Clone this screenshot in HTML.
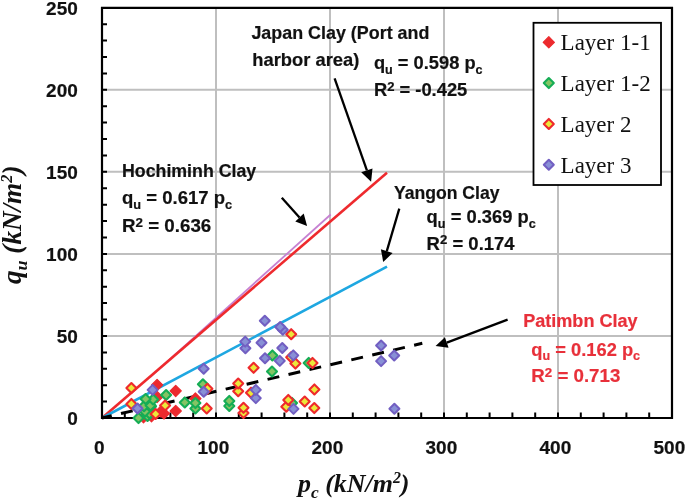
<!DOCTYPE html>
<html><head><meta charset="utf-8"><title>qu vs pc</title>
<style>
html,body{margin:0;padding:0;background:#fff;}
body{width:685px;height:498px;overflow:hidden;}
svg{display:block;filter:blur(0.35px);}
.t{font-family:"Liberation Sans",Arial,sans-serif;font-weight:bold;fill:#111;stroke:#111;stroke-width:0.2px;}
.lg{font-family:"Liberation Serif","Times New Roman",serif;fill:#111;}
.ax{font-family:"Liberation Serif","Times New Roman",serif;font-weight:bold;font-style:italic;fill:#111;}
</style></head><body>
<svg width="685" height="498" viewBox="0 0 685 498">
<defs>
<path id="mR" d="M0,-5.6 L5.6,0 L0,5.6 L-5.6,0Z" fill="#ec2a2e" stroke="#ec2a2e" stroke-width="1.2" stroke-linejoin="round"/>
<path id="mG" d="M0,-5 L5,0 L0,5 L-5,0Z" fill="#84c464" stroke="#15ad55" stroke-width="2.1" stroke-linejoin="round"/>
<path id="mY" d="M0,-5 L5,0 L0,5 L-5,0Z" fill="#ece83a" stroke="#ee2a2c" stroke-width="2.1" stroke-linejoin="round"/>
<path id="mP" d="M0,-5 L5,0 L0,5 L-5,0Z" fill="#8890d6" stroke="#725fc2" stroke-width="2" stroke-linejoin="round"/>
</defs>
<rect width="685" height="498" fill="#fff"/>

<path d="M216.0,7.8V418.0M330.0,7.8V418.0M444.0,7.8V418.0M558.0,7.8V418.0M102.0,335.9H672.0M102.0,253.9H672.0M102.0,171.8H672.0M102.0,89.8H672.0" stroke="#bfbfbf" stroke-width="2" fill="none"/>
<path d="M102.0,401.6h5M102.0,385.2h5M102.0,368.8h5M102.0,352.4h5M102.0,335.9h5M102.0,319.5h5M102.0,303.1h5M102.0,286.7h5M102.0,270.3h5M102.0,253.9h5M102.0,237.5h5M102.0,221.1h5M102.0,204.7h5M102.0,188.3h5M102.0,171.8h5M102.0,155.4h5M102.0,139.0h5M102.0,122.6h5M102.0,106.2h5M102.0,89.8h5M102.0,73.4h5M102.0,57.0h5M102.0,40.6h5M102.0,24.2h5M124.8,418.0v-5.5M147.6,418.0v-5.5M170.4,418.0v-5.5M193.2,418.0v-5.5M216.0,418.0v-5.5M238.8,418.0v-5.5M261.6,418.0v-5.5M284.4,418.0v-5.5M307.2,418.0v-5.5M330.0,418.0v-5.5M352.8,418.0v-5.5M375.6,418.0v-5.5M398.4,418.0v-5.5M421.2,418.0v-5.5M444.0,418.0v-5.5M466.8,418.0v-5.5M489.6,418.0v-5.5M512.4,418.0v-5.5M535.2,418.0v-5.5M558.0,418.0v-5.5M580.8,418.0v-5.5M603.6,418.0v-5.5M626.4,418.0v-5.5M649.2,418.0v-5.5" stroke="#000" stroke-width="2" fill="none"/>
<line x1="150" y1="377.1" x2="330.7" y2="214.5" stroke="#c682d2" stroke-width="1.8"/>
<line x1="102.0" y1="418.0" x2="387.0" y2="172.7" stroke="#ee2a2e" stroke-width="2.6"/>
<line x1="102.0" y1="418.0" x2="387.0" y2="266.6" stroke="#1ea7e1" stroke-width="2.6"/>
<line x1="102.0" y1="418.0" x2="422.3" y2="343.3" stroke="#000" stroke-width="3" stroke-dasharray="12,9.5" stroke-dashoffset="2"/>
<path d="M102.0,7.8H672.0V418.0H102.0Z" stroke="#000" stroke-width="2.2" fill="none"/>
<use href="#mR" x="143.5" y="417.2"/>
<use href="#mR" x="151.5" y="416.2"/>
<use href="#mR" x="164" y="413.4"/>
<use href="#mR" x="161" y="411.4"/>
<use href="#mR" x="175.7" y="411.0"/>
<use href="#mR" x="195.4" y="398.6"/>
<use href="#mR" x="157.1" y="397.0"/>
<use href="#mR" x="175.7" y="390.9"/>
<use href="#mR" x="157.1" y="384.9"/>
<use href="#mG" x="138.5" y="418.1"/>
<use href="#mG" x="147.5" y="415.9"/>
<use href="#mG" x="149.5" y="413.4"/>
<use href="#mG" x="145" y="411.5"/>
<use href="#mG" x="195.4" y="408.4"/>
<use href="#mG" x="151" y="406.4"/>
<use href="#mG" x="144" y="406.2"/>
<use href="#mG" x="229.3" y="405.9"/>
<use href="#mG" x="150.6" y="405.5"/>
<use href="#mG" x="195.4" y="403.1"/>
<use href="#mG" x="292" y="402.9"/>
<use href="#mG" x="184.8" y="402.4"/>
<use href="#mG" x="229.3" y="400.9"/>
<use href="#mG" x="153.1" y="399.5"/>
<use href="#mG" x="145.6" y="399.0"/>
<use href="#mG" x="166.1" y="395.0"/>
<use href="#mG" x="202.9" y="384.3"/>
<use href="#mG" x="272" y="371.6"/>
<use href="#mG" x="308.7" y="362.9"/>
<use href="#mG" x="272.4" y="355.4"/>
<use href="#mY" x="155.6" y="414.0"/>
<use href="#mY" x="243.5" y="412.9"/>
<use href="#mY" x="206.7" y="408.4"/>
<use href="#mY" x="314.3" y="408.1"/>
<use href="#mY" x="243.5" y="407.8"/>
<use href="#mY" x="286.3" y="406.7"/>
<use href="#mY" x="165.1" y="405.5"/>
<use href="#mY" x="131.4" y="403.9"/>
<use href="#mY" x="304.7" y="401.5"/>
<use href="#mY" x="288.3" y="399.9"/>
<use href="#mY" x="251" y="392.7"/>
<use href="#mY" x="238.2" y="391.2"/>
<use href="#mY" x="314.4" y="389.4"/>
<use href="#mY" x="207.4" y="388.8"/>
<use href="#mY" x="131.4" y="388.1"/>
<use href="#mY" x="238.2" y="383.5"/>
<use href="#mY" x="253.6" y="367.8"/>
<use href="#mY" x="295.4" y="363.6"/>
<use href="#mY" x="312.5" y="362.9"/>
<use href="#mY" x="291.2" y="357.2"/>
<use href="#mY" x="291.2" y="334.2"/>
<use href="#mP" x="293.5" y="408.9"/>
<use href="#mP" x="394.4" y="408.7"/>
<use href="#mP" x="137.5" y="408.5"/>
<use href="#mP" x="255.8" y="398.1"/>
<use href="#mP" x="203.7" y="391.8"/>
<use href="#mP" x="152.6" y="389.9"/>
<use href="#mP" x="255.8" y="389.9"/>
<use href="#mP" x="203.7" y="368.8"/>
<use href="#mP" x="381.1" y="361.1"/>
<use href="#mP" x="279.8" y="360.9"/>
<use href="#mP" x="265" y="358.2"/>
<use href="#mP" x="394.2" y="355.5"/>
<use href="#mP" x="293.3" y="355.4"/>
<use href="#mP" x="245.4" y="348.2"/>
<use href="#mP" x="282.3" y="348.0"/>
<use href="#mP" x="381.1" y="345.5"/>
<use href="#mP" x="261.5" y="342.8"/>
<use href="#mP" x="245.2" y="341.6"/>
<use href="#mP" x="282.8" y="329.8"/>
<use href="#mP" x="280.2" y="327.0"/>
<use href="#mP" x="264.8" y="320.8"/>
<text class="t" x="77.8" y="424.9" font-size="19" text-anchor="end">0</text>
<text class="t" x="77.8" y="342.8" font-size="19" text-anchor="end">50</text>
<text class="t" x="77.8" y="260.8" font-size="19" text-anchor="end">100</text>
<text class="t" x="77.8" y="178.8" font-size="19" text-anchor="end">150</text>
<text class="t" x="77.8" y="96.7" font-size="19" text-anchor="end">200</text>
<text class="t" x="77.8" y="14.7" font-size="19" text-anchor="end">250</text>
<text class="t" x="99.4" y="454.2" font-size="19" text-anchor="middle">0</text>
<text class="t" x="213.4" y="454.2" font-size="19" text-anchor="middle">100</text>
<text class="t" x="327.4" y="454.2" font-size="19" text-anchor="middle">200</text>
<text class="t" x="441.4" y="454.2" font-size="19" text-anchor="middle">300</text>
<text class="t" x="555.4" y="454.2" font-size="19" text-anchor="middle">400</text>
<text class="t" x="669.4" y="454.2" font-size="19" text-anchor="middle">500</text>
<text class="t" x="251.4" y="38.7" font-size="18.2" style="fill:#111;stroke:#111" textLength="178" lengthAdjust="spacingAndGlyphs">Japan Clay (Port and</text>
<text class="t" x="252.3" y="65.8" font-size="18.2" style="fill:#111;stroke:#111" textLength="107" lengthAdjust="spacingAndGlyphs">harbor area)</text>
<text class="t" x="373.9" y="69.3" font-size="18.2" fill="#111" style="fill:#111;stroke:#111" textLength="108.7" lengthAdjust="spacingAndGlyphs">q<tspan font-size="12.5" dy="4.6">u</tspan><tspan dy="-4.6"> = 0.598 p</tspan><tspan font-size="12.5" dy="4.6">c</tspan></text>
<text class="t" x="373.9" y="96" font-size="18.2" style="fill:#111;stroke:#111" textLength="93.4" lengthAdjust="spacingAndGlyphs">R<tspan font-size="13" dy="-5.2">2</tspan><tspan dy="5.2"> = -0.425</tspan></text>
<text class="t" x="122" y="177.3" font-size="18.2" style="fill:#111;stroke:#111" textLength="134.2" lengthAdjust="spacingAndGlyphs">Hochiminh Clay</text>
<text class="t" x="122" y="204.2" font-size="18.2" fill="#111" style="fill:#111;stroke:#111" textLength="110.1" lengthAdjust="spacingAndGlyphs">q<tspan font-size="12.5" dy="4.6">u</tspan><tspan dy="-4.6"> = 0.617 p</tspan><tspan font-size="12.5" dy="4.6">c</tspan></text>
<text class="t" x="122" y="232.3" font-size="18.2" style="fill:#111;stroke:#111" textLength="89.3" lengthAdjust="spacingAndGlyphs">R<tspan font-size="13" dy="-5.2">2</tspan><tspan dy="5.2"> = 0.636</tspan></text>
<text class="t" x="393.9" y="198.7" font-size="18.2" style="fill:#111;stroke:#111" textLength="105.6" lengthAdjust="spacingAndGlyphs">Yangon Clay</text>
<text class="t" x="426.6" y="223.1" font-size="18.2" fill="#111" style="fill:#111;stroke:#111" textLength="109.1" lengthAdjust="spacingAndGlyphs">q<tspan font-size="12.5" dy="4.6">u</tspan><tspan dy="-4.6"> = 0.369 p</tspan><tspan font-size="12.5" dy="4.6">c</tspan></text>
<text class="t" x="426.6" y="249.6" font-size="18.2" style="fill:#111;stroke:#111" textLength="88" lengthAdjust="spacingAndGlyphs">R<tspan font-size="13" dy="-5.2">2</tspan><tspan dy="5.2"> = 0.174</tspan></text>
<text class="t" x="523.2" y="327.1" font-size="18.2" style="fill:#e8303a;stroke:#e8303a" textLength="114.4" lengthAdjust="spacingAndGlyphs">Patimbn Clay</text>
<text class="t" x="531.3" y="355.6" font-size="18.2" fill="#e8303a" style="fill:#e8303a;stroke:#e8303a" textLength="108.8" lengthAdjust="spacingAndGlyphs">q<tspan font-size="12.5" dy="4.6">u</tspan><tspan dy="-4.6"> = 0.162 p</tspan><tspan font-size="12.5" dy="4.6">c</tspan></text>
<text class="t" x="531.3" y="382.3" font-size="18.2" style="fill:#e8303a;stroke:#e8303a" textLength="89" lengthAdjust="spacingAndGlyphs">R<tspan font-size="13" dy="-5.2">2</tspan><tspan dy="5.2"> = 0.713</tspan></text>
<line x1="334.6" y1="78.4" x2="366.9" y2="170.3" stroke="#000" stroke-width="2.3"/><path d="M371.1,181.7L361.2,172.2L372.5,168.4Z" fill="#000"/>
<line x1="281.8" y1="197.8" x2="299.5" y2="217.6" stroke="#000" stroke-width="2.3"/><path d="M307.1,225.9L295.3,221.6L303.7,213.6Z" fill="#000"/>
<line x1="399.3" y1="208.7" x2="386.8" y2="251.1" stroke="#000" stroke-width="2.3"/><path d="M383.2,261.9L380.9,249.2L392.6,253.1Z" fill="#000"/>
<line x1="507.6" y1="319.7" x2="446.8" y2="342.6" stroke="#000" stroke-width="2.3"/><path d="M435.6,346L444.9,337.3L448.6,347.8Z" fill="#000"/>
<rect x="533.5" y="22.8" width="127.5" height="162.2" fill="#fff" stroke="#000" stroke-width="1.8"/>
<use href="#mR" x="548.8" y="42.3"/>
<text class="lg" x="560.6" y="50.4" font-size="23">Layer 1-1</text>
<use href="#mG" x="548.8" y="83.1"/>
<text class="lg" x="560.6" y="91.2" font-size="23">Layer 1-2</text>
<use href="#mY" x="548.8" y="123.9"/>
<text class="lg" x="560.6" y="132.0" font-size="23">Layer 2</text>
<use href="#mP" x="548.8" y="164.7"/>
<text class="lg" x="560.6" y="172.8" font-size="23">Layer 3</text>
<text class="ax" x="298" y="492" font-size="26" textLength="111.5" lengthAdjust="spacingAndGlyphs">p<tspan font-size="17.5" dy="5.5">c</tspan><tspan dy="-5.5"> (kN/m</tspan><tspan font-size="16" dy="-9.5">2</tspan><tspan dy="9.5">)</tspan></text>
<text class="ax" transform="translate(21,284) rotate(-90)" x="0" y="0" font-size="26.5" textLength="118.5" lengthAdjust="spacingAndGlyphs">q<tspan font-size="17.5" dy="5.5">u</tspan><tspan dy="-5.5"> (kN/m</tspan><tspan font-size="16" dy="-9.5">2</tspan><tspan dy="9.5">)</tspan></text>
</svg></body></html>
